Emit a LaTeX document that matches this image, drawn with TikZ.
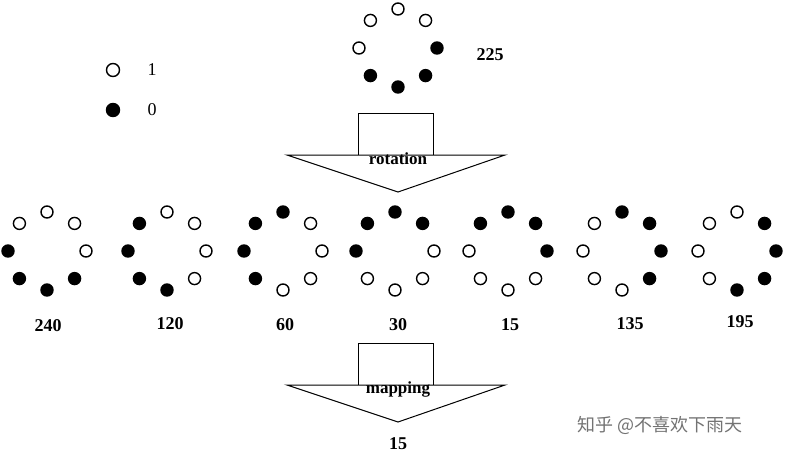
\documentclass[tikz,border=0pt]{standalone}
\usepackage{fontspec}
\setmainfont{Liberation Serif}
\newfontfamily\cjk{Noto Sans CJK SC}
\usetikzlibrary{calc}
\begin{document}
\begin{tikzpicture}[x=1pt,y=-1pt,
  od/.style={circle,draw=black,line width=1.4pt,fill=white,minimum size=12pt,inner sep=0pt},
  fd/.style={circle,draw=black,line width=1.4pt,fill=black,minimum size=12pt,inner sep=0pt},
  lbl/.style={font=\bfseries\fontsize{18}{18}\selectfont,inner sep=0pt},
  alb/.style={font=\bfseries\fontsize{17}{17}\selectfont,inner sep=0pt},
  barrow/.style={draw=black,line width=1pt,fill=white}]
\useasboundingbox (0,0) rectangle (787,456);
% pattern: top TR R BR B BL L TL ; 1 = filled
\newcommand{\lbpring}[4]{%
  \foreach \v [count=\i from 0] in {#3} {
    \pgfmathsetmacro{\ang}{45*\i-90}
    \ifnum\v=1 \node[fd] (#4d\i) at ($(#1,#2)+(\ang:39)$) {};
    \else \node[od] (#4d\i) at ($(#1,#2)+(\ang:39)$) {};\fi
  }}
\lbpring{398}{48}{0,0,1,1,1,1,0,0}{t}
\node[lbl] (l225) at (490,55) {225};
% legend
\node[od,minimum size=13pt] (lo) at (113,70) {};
\node[font=\fontsize{18}{18}\selectfont] (l1) at (152,70) {1};
\node[fd,minimum size=13pt] (lf) at (113,110) {};
\node[font=\fontsize{18}{18}\selectfont] (l0) at (152,110) {0};
% arrow 1
\draw[barrow] (358,155) -- (358,113) -- (433,113) -- (433,155);
\draw[barrow] (287,155) -- (505,155) -- (398,192) -- cycle;
\node[alb] (rot) at (398,159) {rotation};
% row
\lbpring{47}{251}{0,0,0,1,1,1,1,0}{a}
\lbpring{167}{251}{0,0,0,0,1,1,1,1}{b}
\lbpring{283}{251}{1,0,0,0,0,1,1,1}{c}
\lbpring{395}{251}{1,1,0,0,0,0,1,1}{d}
\lbpring{508}{251}{1,1,1,0,0,0,0,1}{e}
\lbpring{622}{251}{1,1,1,1,0,0,0,0}{f}
\lbpring{737}{251}{0,1,1,1,1,0,0,0}{g}
\node[lbl] (n240) at (48,326) {240};
\node[lbl] (n120) at (170,324) {120};
\node[lbl] (n60) at (285,325) {60};
\node[lbl] (n30) at (398,325) {30};
\node[lbl] (n15) at (510,325) {15};
\node[lbl] (n135) at (630,324) {135};
\node[lbl] (n195) at (740,322) {195};
% arrow 2
\draw[barrow] (358,385) -- (358,343) -- (433,343) -- (433,385);
\draw[barrow] (287,385) -- (505,385) -- (398,422) -- cycle;
\node[alb] (map) at (398,389) {mapping};
\node[lbl] (res) at (398,444) {15};
% watermark
\node[font=\cjk\fontsize{18}{18}\selectfont,text=black!55] (wm) at (660,425) {知乎 @不喜欢下雨天};
\end{tikzpicture}
\end{document}
